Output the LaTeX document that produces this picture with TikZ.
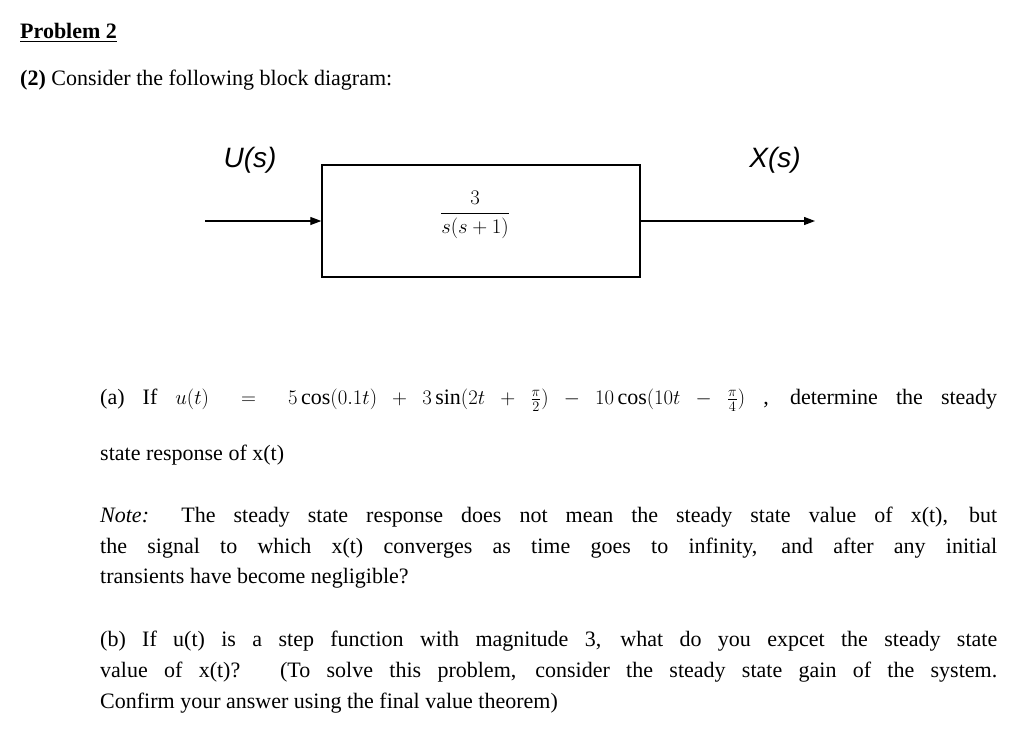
\documentclass[tikz,border=0pt]{standalone}
\usepackage{amsmath}
\usepackage{fontspec}
\setmainfont{Liberation Serif}
\setsansfont{Liberation Sans}
\usetikzlibrary{arrows.meta}
\begin{document}
\begin{tikzpicture}[x=1pt,y=-1pt,
  txt/.style={anchor=west,inner sep=0pt,font=\fontsize{22}{26}\selectfont},
  sig/.style={font=\fontsize{28}{30}\selectfont\sffamily\itshape,inner sep=0pt},
  conn/.style={draw,line width=1.2pt,-{Triangle[length=11pt,width=8pt]}}]
\useasboundingbox[fill=white] (0,0) rectangle (1024,737);
\node[txt] (t1) at (20,33) {\textbf{\underline{Problem 2}}};
\node[txt] (t2) at (20,80) {\textbf{(2)} Consider the following block diagram:};
\node[draw,line width=1.4pt,minimum width=318pt,minimum height=112pt,inner sep=0pt] (blk) at (481,221) {};
\node[inner sep=0pt,font=\fontsize{22}{26}\selectfont] (tf) at (475,215) {$\dfrac{3}{s(s+1)}$};
\coordinate (in) at (205,221);
\coordinate (out) at (815,221);
\draw[conn] (in) -- (blk.west);
\draw[conn] (blk.east) -- (out);
\node[sig] (U) at (250,160) {U(s)};
\node[sig] (X) at (775,160) {X(s)};
\node[txt] (a1) at (100,400) {\makebox[897pt][s]{(a) If $u(t)=5\cos(0.1t)+3\sin(2t+\frac{\pi}{2})-10\cos(10t-\frac{\pi}{4})$ , determine the steady}};
\node[txt] (a2) at (100,455) {state response of x(t)};
\node[txt] (n1) at (100,517) {\makebox[897pt][s]{\textit{Note:} The steady state response does not mean the steady state value of x(t), but}};
\node[txt] (n2) at (100,548) {\makebox[897pt][s]{the signal to which x(t) converges as time goes to infinity, and after any initial}};
\node[txt] (n3) at (100,578) {transients have become negligible?};
\node[txt] (b1) at (100,641) {\makebox[897pt][s]{(b) If u(t) is a step function with magnitude 3, what do you expcet the steady state}};
\node[txt] (b2) at (100,672) {\makebox[897pt][s]{value of x(t)? (To solve this problem, consider the steady state gain of the system.}};
\node[txt] (b3) at (100,703) {Confirm your answer using the final value theorem)};
\end{tikzpicture}
\end{document}
